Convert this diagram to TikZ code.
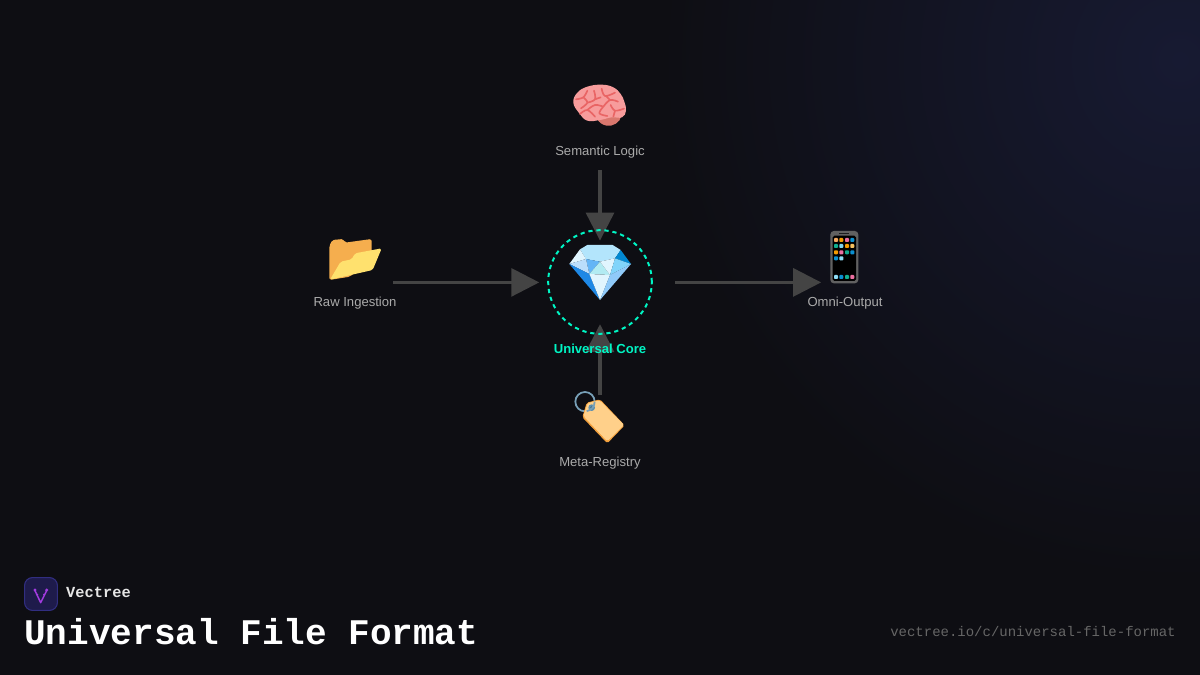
\documentclass[tikz,border=0pt]{standalone}
\usepackage{fontspec}
\setmainfont{Liberation Sans}
\setmonofont{Liberation Mono}
\usetikzlibrary{arrows.meta, positioning}
\definecolor{pagebg}{HTML}{0E0E13}
\definecolor{glowblue}{HTML}{171A32}
\definecolor{flowgrey}{HTML}{444444}
\definecolor{coreteal}{HTML}{00F5C4}
\definecolor{captiongrey}{HTML}{AAAAAA}
\definecolor{urlgrey}{HTML}{666666}
\definecolor{brainpink}{HTML}{F79C9C}
\definecolor{brainline}{HTML}{E96565}
\definecolor{brainback}{HTML}{D9776E}
\definecolor{logofill}{HTML}{1E1B4B}
\definecolor{logoedge}{HTML}{312E81}
\definecolor{logomark}{HTML}{A23BE0}
\definecolor{gemsky}{HTML}{B3E5FC}
\definecolor{gemwhite}{HTML}{E1F5FE}
\definecolor{gemdeep}{HTML}{0288D1}
\definecolor{gemmid}{HTML}{64B5F6}
\definecolor{gempale}{HTML}{BBDEFB}
\definecolor{gemblue}{HTML}{1E88E5}
\definecolor{gemteal}{HTML}{B2EBF2}
\definecolor{gemlight}{HTML}{81D4FA}
\definecolor{gemsoft}{HTML}{90CAF9}
\definecolor{tagring}{HTML}{78A0B8}
\definecolor{tagedge}{HTML}{F3A03C}
\definecolor{tagbody}{HTML}{FFD08A}
\definecolor{taghole}{HTML}{5F8FAD}
\definecolor{folderback}{HTML}{F5AE4E}
\definecolor{folderfront}{HTML}{FFE16E}
\definecolor{phonebody}{HTML}{616161}
\tikzset{
  flow/.style={draw=flowgrey, line width=1.8pt, -{Triangle[length=15.9pt,width=15.9pt]}},
  port/.style={inner sep=0pt, outer sep=0pt},
  caption/.style={inner sep=0pt, text=captiongrey, font=\fontsize{7.45}{9}\selectfont},
  corecaption/.style={inner sep=0pt, text=coreteal, font=\fontsize{7.45}{9}\selectfont\bfseries},
  corering/.style={circle, draw=coreteal, line width=1.13pt, dash pattern=on 2.4pt off 2.2pt, minimum size=59pt, inner sep=0pt},
  icon/.style={shift={#1}, scale=1/3}
}
\begin{document}
\begin{tikzpicture}[x=0.02cm, y=-0.02cm]
\useasboundingbox (0,0) rectangle (1200,675);
\fill[pagebg] (0,0) rectangle (1200,675);
\begin{scope}
  \clip (0,0) rectangle (1200,675);
  \shade[inner color=glowblue, outer color=pagebg] (1180,60) circle (520);
\end{scope}

% end points of the arrows
\node[port, minimum width=43pt, minimum height=1pt] (raw) at (355,282.4) {};
\node[port, minimum width=27.2pt, minimum height=1pt] (omni) at (845,282.4) {};
\node[port, minimum width=69.2pt, minimum height=47.6pt] (hub) at (600,282.4) {};
\node[port, minimum width=1pt, minimum height=22.7pt] (semantic) at (600,150) {};
\node[port, minimum width=1pt, minimum height=1pt] (meta) at (600,396) {};

\draw[flow] (raw) -- (hub);
\draw[flow, shorten <=8pt] (hub) -- (omni);
\draw[flow] (semantic) -- (hub);
\draw[flow] (meta) -- (hub);

\node[corering] (core) at (600,282) {};

% brain
\begin{scope}[icon={(500,60)}]
  \fill[brainback] (292,178) .. controls (320,168) and (345,168) .. (364,168) .. controls (360,188) and (338,200) .. (320,197) .. controls (308,195) and (298,188) .. (292,178) -- cycle;
  \fill[brainpink] plot[smooth cycle, tension=0.7] coordinates {(220,128) (232,98) (262,80) (305,74) (340,82) (362,102) (373,125) (378,152) (366,172) (335,172) (300,180) (262,182) (238,160)};
  \draw[brainline, line width=0.95pt, line cap=round, line join=round]
    plot[smooth, tension=0.6] coordinates {(228,118) (250,112) (262,92)}
    plot[smooth, tension=0.6] coordinates {(250,112) (262,128) (243,145)}
    plot[smooth, tension=0.6] coordinates {(262,128) (285,118) (282,92)}
    plot[smooth, tension=0.6] coordinates {(285,118) (302,112)}
    plot[smooth, tension=0.6] coordinates {(240,162) (262,150) (285,170)}
    plot[smooth, tension=0.6] coordinates {(262,150) (285,135) (310,140)}
    plot[smooth, tension=0.6] coordinates {(310,140) (330,120) (354,125)}
    plot[smooth, tension=0.6] coordinates {(305,86) (315,108) (345,98)}
    plot[smooth, tension=0.6] coordinates {(330,120) (318,108)}
    plot[smooth, tension=0.6] coordinates {(310,140) (298,160) (322,168)}
    plot[smooth, tension=0.6] coordinates {(332,135) (345,152) (372,146)}
    plot[smooth, tension=0.6] coordinates {(345,152) (340,170)};
\end{scope}

% gem
\begin{scope}[icon={(500,220)}]
  \fill[gemsky] (240,88) -- (262,75) -- (338,75) -- (362,90) -- (345,115) -- (300,125) -- (258,117) -- cycle;
  \fill[gemwhite] (208,132) -- (240,88) -- (258,117) -- cycle;
  \fill[gemdeep] (362,90) -- (393,132) -- (345,115) -- cycle;
  \fill[gemmid] (258,117) -- (300,125) -- (268,162) -- cycle;
  \fill[gempale] (208,132) -- (258,117) -- (268,162) -- cycle;
  \fill[gemblue] (208,132) -- (268,162) -- (300,240) -- cycle;
  \fill[gemteal] (300,125) -- (268,162) -- (330,165) -- cycle;
  \fill[gemwhite] (300,125) -- (345,115) -- (330,165) -- cycle;
  \fill[gemlight] (345,115) -- (393,132) -- (330,165) -- cycle;
  \fill[gemwhite] (268,162) -- (330,165) -- (300,240) -- cycle;
  \fill[gemsoft] (330,165) -- (393,132) -- (300,240) -- cycle;
\end{scope}

% tag
\begin{scope}[icon={(500,220)}]
  \draw[tagring, line width=1pt] (255,545) circle (29);
  \fill[tagedge, rounded corners=1pt] (247,592) -- (260,548) -- (300,538) -- (374,616) -- (322,670) -- cycle;
  \fill[tagbody, rounded corners=1pt] (250,588) -- (263,549) -- (299,541) -- (372,615) -- (322,664) -- cycle;
  \fill[taghole] (275,563) circle (10);
  \fill[taghole!60!black] (275,563) circle (4);
  \draw[tagring, line width=1pt] (284,545) arc (0:80:29);
\end{scope}

% folder
\begin{scope}[icon={(300,220)}]
  \fill[folderback, rounded corners=1pt] (88,180) -- (88,78) -- (97,60) -- (130,57) -- (135,68) -- (215,57) -- (215,110) -- (150,170) -- cycle;
  \fill[folderfront, rounded corners=1pt] (90,179) -- (122,125) -- (155,118) -- (165,100) -- (245,85) -- (218,150) -- cycle;
\end{scope}

% phone
\begin{scope}[icon={(780,220)}]
  \fill[phonebody, rounded corners=2pt] (151,33) rectangle (235,190);
  \fill[black, rounded corners=1pt] (158,47) rectangle (228,183);
  \fill[black!70!phonebody] (178,39) rectangle (208,43);
  \foreach \cx/\cy/\cc in {168/60/F4A860, 184/60/F59B00, 201/60/EC6FA0, 217/60/0A8FD0,
    168/78/10B090, 184/78/7FD4F0, 201/78/F59B00, 217/78/F5C060,
    168/97/F59B00, 184/97/EC6FA0, 201/97/10A88C, 217/97/0A8FD0,
    168/115/0A8FD0, 184/115/90DDF5,
    168/171/90DDF5, 184/171/0A8FD0, 201/171/10B090, 217/171/EC6FA0} {
    \definecolor{appcolor}{HTML}{\cc}
    \fill[appcolor, rounded corners=0.5pt] (\cx-6,\cy-6) rectangle (\cx+6,\cy+6);
  }
\end{scope}

\node[caption] (semanticlabel) at (600,152) {Semantic Logic};
\node[caption] (rawlabel) at (355,303) {Raw Ingestion};
\node[caption] (omnilabel) at (845,303) {Omni-Output};
\node[caption] (metalabel) at (600,463) {Meta-Registry};
\node[corecaption] (corelabel) at (600,349) {Universal Core};

% branding
\node[draw=logoedge, fill=logofill, line width=0.6pt, rounded corners=4.5pt, minimum size=18.7pt, inner sep=0pt] (logo) at (41,594) {};
\begin{scope}[icon={(10,570)}]
  \draw[logomark, line width=0.85pt, line cap=round, line join=round] (75,62) -- (92,98) -- (110,62);
  \fill[logomark] (75,60) circle (5) (110,60) circle (5) (82,74) circle (3) (102,74) circle (3);
\end{scope}
\node[right=4.5pt of logo, inner sep=0pt, yshift=1pt, text=white!90!black, font=\fontsize{8.75}{11}\selectfont\ttfamily\bfseries] (brand) {Vectree};
\node[anchor=base west, inner sep=0pt, text=white, font=\fontsize{20.5}{24}\selectfont\ttfamily\bfseries] (title) at (24,644) {Universal File Format};
\node[anchor=base east, inner sep=0pt, text=urlgrey, font=\fontsize{7.96}{10}\selectfont\ttfamily] (url) at (1176,636.5) {vectree.io/c/universal-file-format};
\end{tikzpicture}
\end{document}
